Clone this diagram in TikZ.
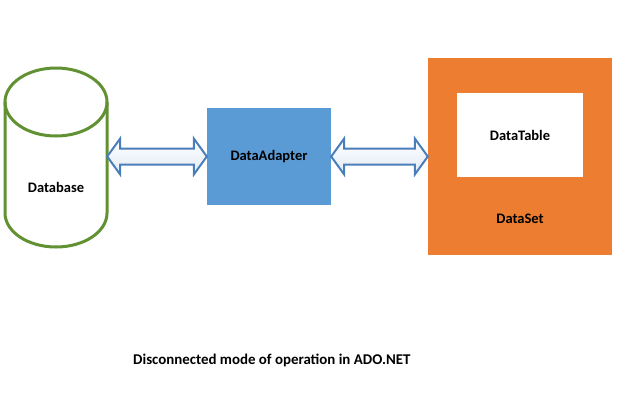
\documentclass[tikz,border=0pt]{standalone}
\usepackage{fontspec}
\setmainfont{Carlito}
\usetikzlibrary{calc}
\definecolor{dbgreen}{RGB}{98,145,52}
\definecolor{adblue}{RGB}{91,155,213}
\definecolor{dsorange}{RGB}{237,125,49}
\definecolor{arrowblue}{RGB}{74,126,187}
\definecolor{arrowfill}{RGB}{226,234,245}
\tikzset{
  txt/.style={inner sep=0pt, font=\bfseries\fontsize{14.5}{17}\selectfont},
  box/.style={rectangle, inner sep=0pt, txt},
  dbline/.style={draw=dbgreen, line width=3pt},
  wayarrow/.style={draw=arrowblue, line width=2pt, line join=miter,
    top color=white, bottom color=arrowfill},
}
% two-headed block arrow between two tips
\newcommand\wayarrow[2]{%
  \draw[wayarrow] (#1) -- ++(13,-18) -- ++(0,10) -- ($(#2)+(-13,-8)$)
    -- ++(0,-10) -- (#2) -- ++(-13,18) -- ++(0,-10) -- ($(#1)+(13,8)$)
    -- ++(0,10) -- cycle;}
\begin{document}
\begin{tikzpicture}[x=1pt, y=-1pt]
  \useasboundingbox (0,0) rectangle (620,413);
  % database cylinder
  \draw[dbline, fill=white] (5,102) -- (5,213)
    arc[start angle=180, end angle=360, x radius=51pt, y radius=34pt] -- (107,102);
  \draw[dbline] (56,102) ellipse [x radius=51pt, y radius=34pt];
  \node[box, minimum width=102pt, minimum height=179pt] (db) at (56,156.5) {};
  \node[txt] (dbname) at (56,187) {Database};
  % adapter and dataset
  \node[box, fill=adblue, minimum width=124pt, minimum height=97pt] (adapter)
    at (269,156.5) {DataAdapter};
  \node[box, fill=dsorange, minimum width=184pt, minimum height=197pt] (dataset)
    at (520,156.5) {};
  \node[box, fill=white, minimum width=126pt, minimum height=84pt] (table)
    at (520,135) {DataTable};
  \node[txt] (setname) at (520,219) {DataSet};
  \begin{scope}
    \wayarrow{db.east}{adapter.west}
    \wayarrow{adapter.east}{dataset.west}
  \end{scope}
  \node[txt, font=\bfseries\fontsize{14.9}{17}\selectfont, anchor=west] (caption)
    at (133,360) {Disconnected mode of operation in ADO.NET};
\end{tikzpicture}
\end{document}
